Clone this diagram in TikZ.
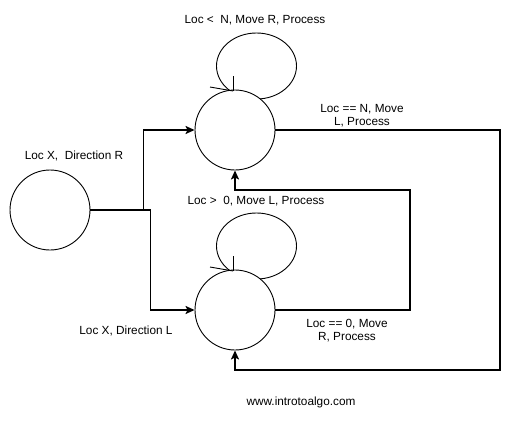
\documentclass[tikz,border=0pt]{standalone}
\usepackage{fontspec}
\setmainfont{Liberation Sans}
\usetikzlibrary{arrows.meta}
\begin{document}
\begin{tikzpicture}[x=1pt,y=-1pt,
  state/.style={circle,draw,line width=0.9pt,fill=white,minimum size=80pt,inner sep=0pt},
  conn/.style={line width=1.8pt,-{Stealth[length=9pt,width=8pt,inset=2pt]}},
  loopline/.style={line width=0.9pt},
  lbl/.style={inner sep=0pt,font=\fontsize{11.8}{13}\selectfont,align=center}]
\useasboundingbox (0,0) rectangle (520,421);
% self loops (drawn under the states)
\draw[loopline] (256.5,66) ellipse [x radius=40, y radius=33];
\draw[loopline] (256.5,246) ellipse [x radius=40, y radius=33];
% states
\node[state] (L) at (50,210) {};
\node[state] (T) at (235,130) {};
\node[state] (B) at (235,310) {};
% loop arrow marks
\coordinate (ta) at (233,91);
\coordinate (ba) at (233,271);
\draw[loopline] (ta) -- ++(0,-15);
\draw[loopline] (ta) -- ++(-23,-4);
\draw[loopline] (ba) -- ++(0,-15);
\draw[loopline] (ba) -- ++(-23,-4);
% connectors
\draw[conn] (L.east) -- ++(53,0) |- (T.west);
\draw[conn] (L.east) -- ++(60,0) |- (B.west);
\draw[conn] (T.east) -| (500,370) -| (B.south);
\draw[conn] (B.east) -| (410,190) -| (T.south);
% labels
\node[lbl] (l1) at (255,20) {Loc <~ N, Move R, Process};
\node[lbl] (l2) at (362,116) {Loc == N, Move\\L, Process};
\node[lbl] (l3) at (74,156) {Loc X,~ Direction R};
\node[lbl] (l4) at (256,201) {Loc >~ 0, Move L, Process};
\node[lbl] (l5) at (126,331) {Loc X, Direction L};
\node[lbl] (l6) at (347,331) {Loc == 0, Move\\R, Process};
\node[lbl] (l7) at (301,402) {www.introtoalgo.com};
\end{tikzpicture}
\end{document}
